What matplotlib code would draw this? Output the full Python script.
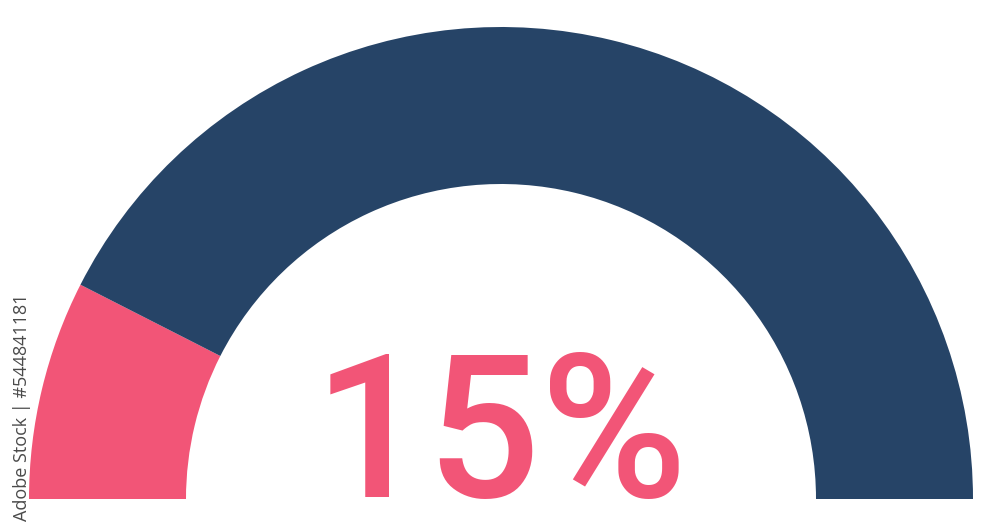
import matplotlib
matplotlib.use("Agg")
from matplotlib import pyplot as plt

# Data
share = 15
values = [share, 100 - share, 100]   # last slice is the hidden lower half
label = f"{share}%"
side_text = "Adobe Stock | #544841181"

# Styles
pink = '#F25577'
navy = '#264467'

fig = plt.figure(figsize=(10, 5.27), dpi=100)
ax = fig.add_axes([0, 0, 1, 1])

ax.pie(values, colors=[pink, navy, 'none'], startangle=180, counterclock=False,
       center=(501, 28), radius=472, wedgeprops=dict(width=157, linewidth=0))

ax.set_xlim(0, 1000)
ax.set_ylim(0, 527)
ax.set_aspect('equal')
ax.axis('off')

ax.text(501, 30, label, ha='center', va='baseline', color=pink,
        fontsize=144, family='Roboto', fontweight='medium')

ax.text(22, 120, side_text, rotation=90, ha='center', va='center',
        color='#4a4a4a', fontsize=13, family='Open Sans')

fig.savefig('out.png', dpi=100)
